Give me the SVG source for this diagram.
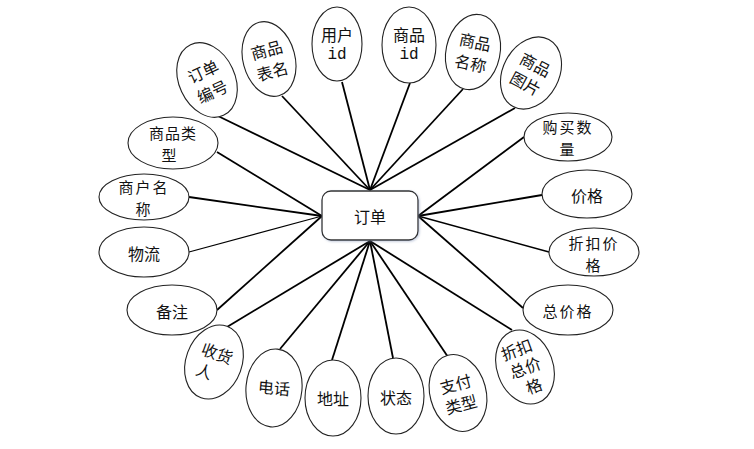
<svg xmlns="http://www.w3.org/2000/svg" width="754" height="449" viewBox="0 0 754 449">
<defs>
<style>
.e{fill:#fff;stroke:#222;stroke-width:1.1}
.c line{stroke:#000;stroke-width:1.8}
.t{font-family:"Noto Sans CJK SC","Noto Sans",sans-serif;font-size:16px;fill:#111;text-anchor:middle;dominant-baseline:central}
.s{font-size:15px;letter-spacing:2px}
.m{font-family:"Liberation Mono",monospace;font-size:16px;fill:#111;text-anchor:middle;dominant-baseline:central}
.box{fill:#fff;stroke:#333;stroke-width:1.3}
</style>
<filter id="sh" x="-20%" y="-20%" width="140%" height="140%">
<feDropShadow dx="1" dy="1" stdDeviation="1.2" flood-color="#8899bb" flood-opacity="0.5"/>
</filter>
</defs>
<rect width="754" height="449" fill="#fff"/>
<g id="connectors" class="c">
<line x1="218" y1="116" x2="370" y2="190"/>
<line x1="282" y1="96" x2="370" y2="190"/>
<line x1="342" y1="82" x2="370" y2="190"/>
<line x1="410" y1="83" x2="370" y2="190"/>
<line x1="463" y1="89" x2="370" y2="190"/>
<line x1="515" y1="108" x2="370" y2="190"/>
<line x1="217" y1="152" x2="322" y2="216"/>
<line x1="189" y1="197" x2="322" y2="216"/>
<line x1="189" y1="252" x2="322" y2="216" style="stroke-width:1.2"/>
<line x1="217" y1="310" x2="322" y2="216"/>
<line x1="524" y1="137" x2="418" y2="216"/>
<line x1="542" y1="195" x2="418" y2="216"/>
<line x1="549" y1="252" x2="418" y2="216" style="stroke-width:1.3"/>
<line x1="523" y1="308" x2="418" y2="216"/>
<line x1="512" y1="330" x2="370" y2="241"/>
<line x1="448" y1="357" x2="370" y2="241"/>
<line x1="393" y1="358" x2="370" y2="241"/>
<line x1="332" y1="360" x2="370" y2="241"/>
<line x1="280" y1="349" x2="370" y2="241"/>
<line x1="227" y1="327" x2="370" y2="241"/>
</g>
<g id="order">
<rect class="box" x="322" y="191" width="96" height="49" rx="9" filter="url(#sh)"/>
<text class="t" x="370" y="216">订单</text>
</g>
<g id="n1" transform="translate(207,80) rotate(-25)">
<ellipse class="e" rx="28" ry="39"/>
<text class="t" y="-10">订单</text><text class="t" y="12">编号</text>
</g>
<g id="n2" transform="translate(269,59) rotate(-15)">
<ellipse class="e" rx="26" ry="38"/>
<text class="t" y="-10">商品</text><text class="t" y="12">表名</text>
</g>
<g id="n3" transform="translate(337,44)">
<ellipse class="e" rx="25" ry="37"/>
<text class="t" y="-10">用户</text><text class="m" y="11">id</text>
</g>
<g id="n4" transform="translate(409,45)">
<ellipse class="e" rx="27" ry="38"/>
<text class="t" y="-11">商品</text><text class="m" y="10">id</text>
</g>
<g id="n5" transform="translate(473,52) rotate(12)">
<ellipse class="e" rx="27" ry="38"/>
<text class="t" y="-11">商品</text><text class="t" y="11">名称</text>
</g>
<g id="n6" transform="translate(531,73) rotate(28)">
<ellipse class="e" rx="28" ry="38"/>
<text class="t" y="-10">商品</text><text class="t" y="11">图片</text>
</g>
<g id="n7" transform="translate(568,137)">
<ellipse class="e" rx="44" ry="24"/>
<text class="t s" y="-11">购买数</text><text class="t s" y="11">量</text>
</g>
<g id="n8" transform="translate(587,194)">
<ellipse class="e" rx="45" ry="24"/>
<text class="t" y="1">价格</text>
</g>
<g id="n9" transform="translate(594,252)">
<ellipse class="e" rx="45" ry="24"/>
<text class="t s" y="-10">折扣价</text><text class="t s" y="12">格</text>
</g>
<g id="n10" transform="translate(568,310)">
<ellipse class="e" rx="45" ry="25"/>
<text class="t s" y="0">总价格</text>
</g>
<g id="n11" transform="translate(525,367) rotate(-20)">
<ellipse class="e" rx="28" ry="38"/>
<text class="t" x="-2" y="-20">折扣</text><text class="t" x="0" y="0">总价</text><text class="t" x="2" y="20">格</text>
</g>
<g id="n12" transform="translate(458,393) rotate(-15)">
<ellipse class="e" rx="28" ry="39"/>
<text class="t" y="-10">支付</text><text class="t" y="11">类型</text>
</g>
<g id="n13" transform="translate(396,396)">
<ellipse class="e" rx="28" ry="38"/>
<text class="t" y="1">状态</text>
</g>
<g id="n14" transform="translate(333,398)">
<ellipse class="e" rx="28" ry="38"/>
<text class="t" y="0">地址</text>
</g>
<g id="n15" transform="translate(274,388) rotate(5)">
<ellipse class="e" rx="28" ry="39"/>
<text class="t" y="-1">电话</text>
</g>
<g id="n16" transform="translate(214,362) rotate(20)">
<ellipse class="e" rx="28" ry="38"/>
<text class="t" y="-10">收货</text><text class="t" x="-6" y="11">人</text>
</g>
<g id="n17" transform="translate(172,310)">
<ellipse class="e" rx="45" ry="25"/>
<text class="t" y="1">备注</text>
</g>
<g id="n18" transform="translate(144,252)">
<ellipse class="e" rx="45" ry="25"/>
<text class="t" y="1">物流</text>
</g>
<g id="n19" transform="translate(144,197)">
<ellipse class="e" rx="45" ry="23"/>
<text class="t s" y="-11">商户名</text><text class="t s" y="11">称</text>
</g>
<g id="n20" transform="translate(173,143)">
<ellipse class="e" rx="45" ry="26"/>
<text class="t s" y="-11" style="letter-spacing:1px">商品类</text><text class="t s" x="-3" y="11">型</text>
</g>
</svg>
